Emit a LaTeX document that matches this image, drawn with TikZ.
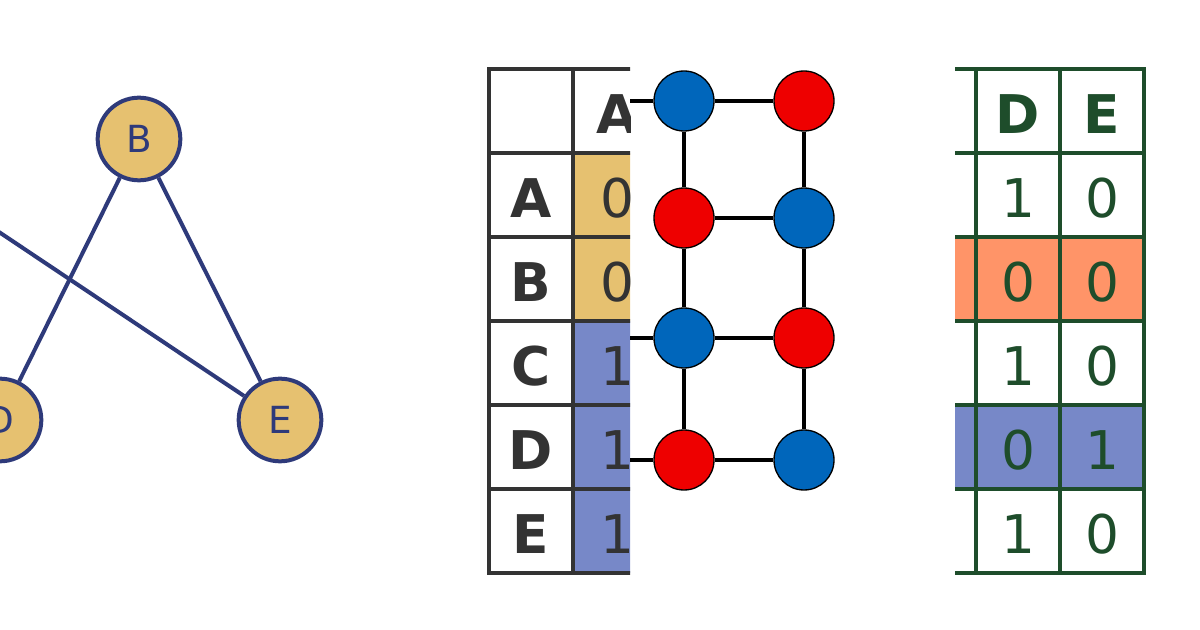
\documentclass[tikz,border=0pt]{standalone}
\usepackage{fontspec}
\setmainfont{DejaVu Sans}
\definecolor{gold}{HTML}{E6C170}
\definecolor{navy}{HTML}{2E3A7A}
\definecolor{tblue}{HTML}{7788C8}
\definecolor{torange}{HTML}{FF9468}
\definecolor{tgreen}{HTML}{1E4D2B}
\definecolor{dgray}{HTML}{333333}
\definecolor{gblue}{HTML}{0066BB}
\definecolor{gred}{HTML}{EE0000}
\tikzset{
 gnode/.style={circle,draw=navy,fill=gold,line width=3pt,minimum size=62pt,inner sep=0pt,text=navy,font=\fontsize{28}{28}\selectfont},
 gedge/.style={navy,line width=3pt},
 bn/.style={circle,draw=black,fill=gblue,line width=1pt,minimum size=45pt,inner sep=0pt},
 rn/.style={circle,draw=black,fill=gred,line width=1pt,minimum size=45pt,inner sep=0pt},
 ge/.style={black,line width=3pt},
 cell/.style={font=\fontsize{40}{40}\selectfont},
 hcell/.style={font=\bfseries\fontsize{40}{40}\selectfont},
}
\begin{document}
\begin{tikzpicture}[x=0.75pt,y=-0.75pt]
\useasboundingbox (0,0) rectangle (1200,630);
% left graph
\coordinate (off) at (-10,226);
\node[gnode] (B) at (139,139) {B};
\node[gnode] (E) at (280,420) {E};
\node[gnode] (D) at (0,420) {D};
\draw[gedge] (off) -- (E);
\draw[gedge] (B) -- (D);
\draw[gedge] (B) -- (E);
% middle table
\begin{scope}
\clip (480,60) rectangle (630,590);
\foreach \i/\c in {1/gold,2/gold,3/tblue,4/tblue,5/tblue}{
  \fill[\c] (573,{69+84*\i}) rectangle (660,{69+84*(\i+1)});
}
\draw[dgray,line width=3pt] (489,69) rectangle (700,573);
\foreach \i in {1,...,5} \draw[dgray,line width=3pt] (489,{69+84*\i}) -- (700,{69+84*\i});
\draw[dgray,line width=3pt] (573,69) -- (573,573);
\node[hcell,text=dgray] (hA) at (617,114) {A};
\foreach \i/\t/\v in {1/A/0,2/B/0,3/C/1,4/D/1,5/E/1}{
  \node[hcell,text=dgray] at (531,{114+84*\i}) {\t};
  \node[cell,text=dgray] at (617,{114+84*\i}) {\v};
}
\end{scope}
% grid graph
\coordinate (l1) at (630,101); \coordinate (l3) at (630,338); \coordinate (l4) at (630,460);
\node[bn] (a1) at (684,101) {}; \node[rn] (b1) at (804,101) {};
\node[rn] (a2) at (684,218) {}; \node[bn] (b2) at (804,218) {};
\node[bn] (a3) at (684,338) {}; \node[rn] (b3) at (804,338) {};
\node[rn] (a4) at (684,460) {}; \node[bn] (b4) at (804,460) {};
\foreach \r in {1,2,3,4} \draw[ge] (a\r) -- (b\r);
\foreach \r/\s in {1/2,2/3,3/4}{\draw[ge] (a\r) -- (a\s); \draw[ge] (b\r) -- (b\s);}
\draw[ge] (l1) -- (a1); \draw[ge] (l3) -- (a3); \draw[ge] (l4) -- (a4);
% right table
\begin{scope}
\clip (955,60) rectangle (1160,590);
\fill[torange] (900,237) rectangle (1144,321);
\fill[tblue] (900,405) rectangle (1144,489);
\draw[tgreen,line width=3pt] (900,69) rectangle (1144,573);
\foreach \i in {1,...,5} \draw[tgreen,line width=3pt] (900,{69+84*\i}) -- (1144,{69+84*\i});
\draw[tgreen,line width=3pt] (976,69) -- (976,573);
\draw[tgreen,line width=3pt] (1060,69) -- (1060,573);
\node[hcell,text=tgreen] (hD) at (1018,114) {D};
\node[hcell,text=tgreen] (hE) at (1102,114) {E};
\foreach \i/\x/\y in {1/1/0,2/0/0,3/1/0,4/0/1,5/1/0}{
  \node[cell,text=tgreen] at (1018,{114+84*\i}) {\x};
  \node[cell,text=tgreen] at (1102,{114+84*\i}) {\y};
}
\end{scope}
\end{tikzpicture}
\end{document}
